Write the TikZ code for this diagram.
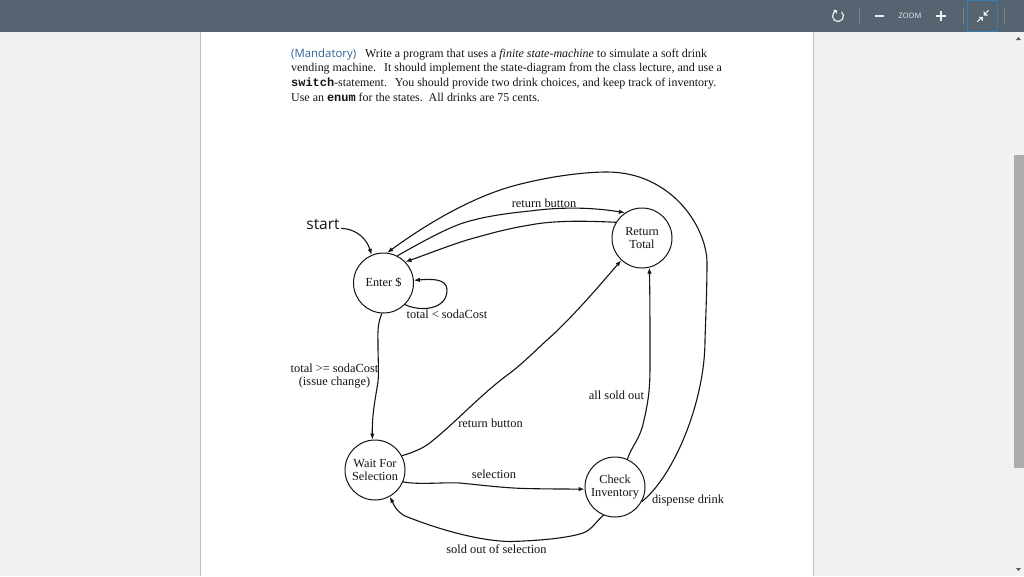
\documentclass[tikz,border=0pt]{standalone}
\usepackage{fontspec}
\usetikzlibrary{arrows.meta}
\setmainfont{Liberation Serif}
\newfontfamily\uifont{Open Sans}
\newfontfamily\typefont{Liberation Mono}
\definecolor{barcol}{RGB}{86,100,113}
\definecolor{sidecol}{RGB}{241,241,241}
\definecolor{edgecol}{RGB}{190,190,190}
\definecolor{thumbcol}{RGB}{172,172,172}
\definecolor{linkcol}{RGB}{50,100,150}
\definecolor{inkcol}{RGB}{20,20,20}
\definecolor{iconcol}{RGB}{235,238,240}
\definecolor{sepcol}{RGB}{120,132,142}
\definecolor{focuscol}{RGB}{60,125,170}
\tikzset{
  x=1pt,y=-1pt,
  state/.style={circle,draw=inkcol,line width=1pt,minimum size=60pt,inner sep=0pt,align=center,
    font=\fontsize{12.3}{13}\selectfont,text=inkcol,fill=white},
  lab/.style={inner sep=0pt,align=center,font=\fontsize{12.4}{13}\selectfont,text=inkcol},
  para/.style={inner sep=0pt,anchor=base west,font=\fontsize{11.95}{12}\selectfont,text=inkcol},
  conn/.style={draw=inkcol,line width=1.1pt,-{Latex[length=6pt,width=4.5pt]}},
  icon/.style={draw=iconcol,line width=1.1pt},
  sep/.style={draw=sepcol,line width=0.7pt},
}
\begin{document}
\begin{tikzpicture}
\useasboundingbox (0,0) rectangle (1024,576);
% window
\fill[sidecol] (0,0) rectangle (1024,576);
\fill[white] (200,32) rectangle (813,576);
\draw[edgecol,line width=0.7pt] (200.5,32) -- (200.5,576) (813.5,32) -- (813.5,576);
\fill[barcol] (0,0) rectangle (1024,32);
\fill[thumbcol] (1014,155) rectangle (1024,467.5);
\fill[black!65] (1016,40) -- (1021,40) -- (1018.5,37) -- cycle;
\fill[black!65] (1016,568) -- (1021,568) -- (1018.5,571) -- cycle;
% toolbar
\draw[icon,line width=1.2pt] (838,16) ++(-50:5.5) arc[start angle=-50,end angle=250,radius=5.5];
\draw[icon,line width=1pt] (833.5,10) -- (836.5,10.8) -- (836,13.5);
\draw[sep] (859.5,7) -- (859.5,25) (963.5,7) -- (963.5,25) (1004.5,7) -- (1004.5,25);
\draw[icon] (875,16) -- (884,16);
\node[inner sep=0pt,text=iconcol,font=\uifont\fontsize{7.5}{8}\selectfont] (zoomlabel) at (910,16) {ZOOM};
\draw[icon] (936,16) -- (946,16) (941,11) -- (941,21);
\draw[focuscol,line width=0.8pt] (967.5,0.5) rectangle (997.5,31);
\fill[iconcol] (978.3,16.8) -- (982.8,16.8) -- (982.8,21.2) -- cycle;
\draw[icon] (977.3,21.8) -- (980.3,18.8);
\fill[iconcol] (983.5,10.8) -- (983.5,15.5) -- (988,15.5) -- cycle;
\draw[icon] (988.6,10.2) -- (985.8,13);
% paragraph
\node[para] (p1) at (291,57) {{\uifont\fontsize{11.4}{12}\selectfont\color{linkcol}(Mandatory)}\,\,\, Write a program that uses a \textit{finite state-machine} to simulate a soft drink};
\node[para] (p2) at (291,71.5) {vending machine.\,\, It should implement the state-diagram from the class lecture, and use a};
\node[para] (p3) at (291,86) {{\typefont\bfseries\fontsize{11.95}{12}\selectfont switch}-statement.\,\, You should provide two drink choices, and keep track of inventory.};
\node[para] (p4) at (291,101) {Use an {\typefont\bfseries\fontsize{11.95}{12}\selectfont enum} for the states.\, All drinks are 75 cents.};
% states
\node[state] (enter) at (383.5,283) {\raisebox{-1.5pt}{Enter \$}};
\node[state] (ret) at (642,238) {Return\\Total};
\node[state] (wait) at (375,470) {Wait For\\Selection};
\node[state] (check) at (615,487) {Check\\Inventory};
% labels
\node[inner sep=0pt,text=inkcol,font=\uifont\fontsize{15.5}{16}\selectfont] (start) at (323,224) {start};
\node[lab] (l1) at (544,203.5) {return button};
\node[lab] (l2) at (447,314.5) {total < sodaCost};
\node[lab] (l3) at (334.5,376.5) {total >= sodaCost\\(issue change)};
\node[lab] (l4) at (616.5,395) {all sold out};
\node[lab] (l5) at (490.5,423) {return button};
\node[lab] (l6) at (494,474) {selection};
\node[lab] (l7) at (688,500.5) {dispense drink};
\node[lab] (l8) at (496.5,549) {sold out of selection};
% connectors
\draw[conn] (start.south east) ++(1,-1) .. controls (358,229) and (367,240) .. (enter.113);
\draw[conn] (check.-29) .. controls (675,475) and (705,400) .. (705,340)
  .. controls (706,310) and (707,285) .. (707,262)
  .. controls (706,225) and (670,172) .. (607,172)
  .. controls (585,172) and (550,176) .. (513,186)
  .. controls (470,198) and (425,225) .. (enter.83);
\draw[conn] (enter.63) .. controls (420,243) and (445,229) .. (463,223)
  .. controls (485,216) and (510,213) .. (530,211)
  .. controls (560,207) and (590,207) .. (ret.124);
\draw[conn] (ret.149) .. controls (590,221) and (555,220) .. (530,225)
  .. controls (505,229) and (485,235) .. (467,240)
  .. controls (445,247) and (425,255) .. (enter.44);
\draw[conn] (enter.-45) .. controls (420,312) and (447,310) .. (447,290)
  .. controls (447,278) and (430,279) .. (enter.5);
\draw[conn] (enter.-93) .. controls (377,325) and (378,333) .. (378,345)
  .. controls (378,360) and (379,370) .. (378,382)
  .. controls (375,400) and (372,415) .. (wait.95);
\draw[conn] (wait.28) .. controls (415,452) and (425,447) .. (431,442)
  .. controls (455,423) and (480,395) .. (510,373)
  .. controls (522,364) and (535,351) .. (547,340)
  .. controls (570,320) and (600,285) .. (ret.227);
\draw[conn] (wait.-23) .. controls (420,485) and (445,482) .. (460,483)
  .. controls (480,485) and (505,488) .. (525,488.5)
  .. controls (545,489) and (565,489) .. (check.184);
\draw[conn] (check.248) .. controls (597,520) and (592,530) .. (583,533)
  .. controls (565,539) and (530,541) .. (510,541.5)
  .. controls (480,541) and (440,530) .. (405,516)
  .. controls (396,511) and (394,505) .. (wait.-61);
\draw[conn] (check.66) .. controls (632,445) and (640,440) .. (644,420)
  .. controls (650,395) and (650,380) .. (650,360)
  .. controls (650,330) and (650,300) .. (ret.-76);
\end{tikzpicture}
\end{document}
